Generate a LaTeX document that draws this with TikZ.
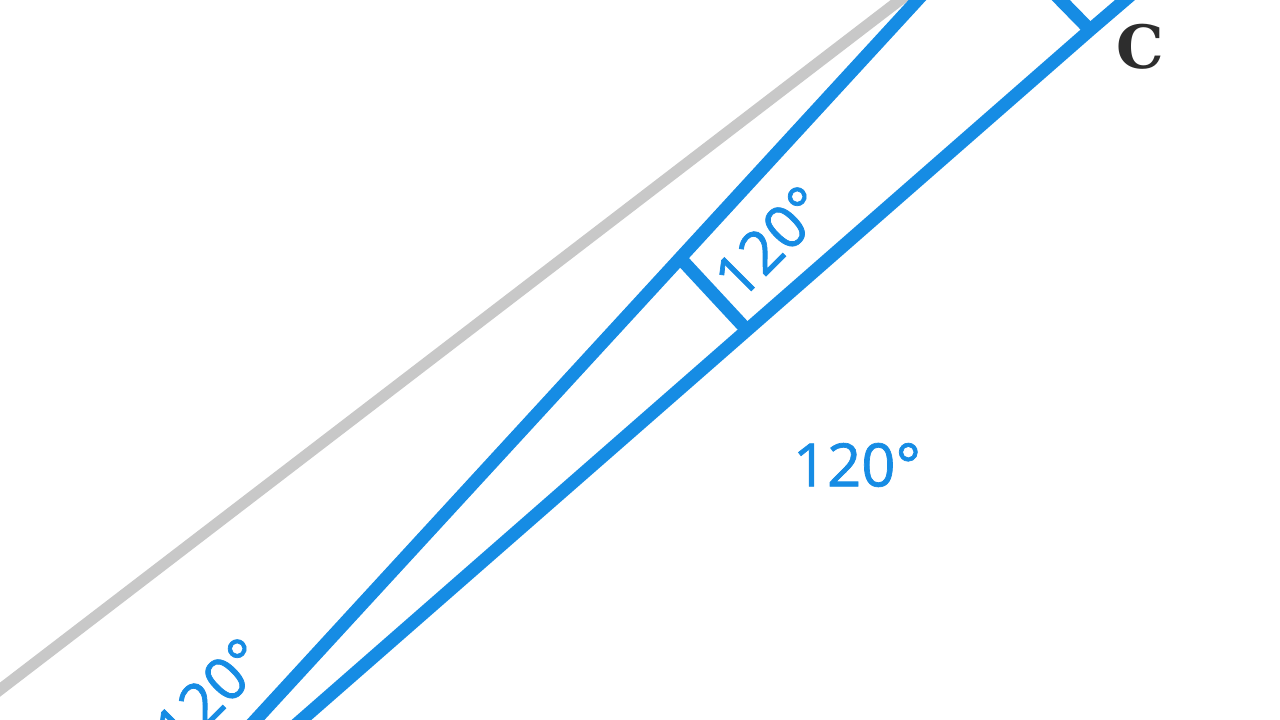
\documentclass[tikz,border=0pt]{standalone}
\usepackage{fontspec}
\newfontfamily\degfont[FakeBold=1.2]{Open Sans}
\newfontfamily\ptfont{DejaVu Serif}
\usepackage{tikz}
\definecolor{rayblue}{RGB}{22,140,228}
\definecolor{raygray}{RGB}{200,200,200}
\definecolor{ptgray}{RGB}{45,45,45}
\tikzset{
  ray/.style={draw=rayblue, line width=3.7pt},
  guide/.style={draw=raygray, line width=3.2pt},
  angle label/.style={text=rayblue, font=\degfont\fontsize{17}{19}\selectfont, inner sep=0pt},
  point label/.style={text=ptgray, font=\ptfont\bfseries\fontsize{17}{19}\selectfont, inner sep=0pt}
}

\begin{document}
\begin{tikzpicture}

\useasboundingbox (0,0) rectangle (12.8,7.2);
\clip (0,0) rectangle (12.8,7.2);

\coordinate (gfoot) at (-0.5,-0.08);
\coordinate (gtop) at (9.6,7.66);
\coordinate (lfoot) at (2.05,-0.55);
\coordinate (ltop) at (9.45,7.5);
\coordinate (rfoot) at (2.5,-0.45);
\coordinate (c) at (10.90,6.90);
\coordinate (rtop) at (11.6,7.5);
\coordinate (m1) at (6.80,4.62);
\coordinate (m2) at (7.45,3.92);
\coordinate (t1) at (10.45,7.36);

\draw[guide](gfoot)--(gtop);
\draw[ray](lfoot)--(ltop);
\draw[ray](rfoot)--(c)--(rtop);
\draw[ray](m1)--(m2);
\draw[ray](c)--(t1);

\node[point label] (clabel) at (11.40,6.73) {C};
\node[angle label, rotate=45] (amid) at (7.70,4.78) {120°};
\node[angle label] (afree) at (8.57,2.55) {120°};
\node[angle label, rotate=45] (afoot) at (2.10,0.26) {120°};

\end{tikzpicture}
\end{document}
